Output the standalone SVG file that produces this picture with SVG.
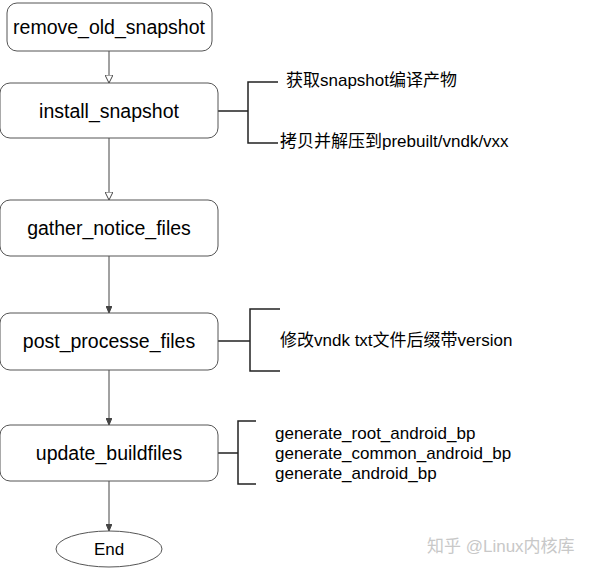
<svg xmlns="http://www.w3.org/2000/svg" width="600" height="569" viewBox="0 0 600 569">
<defs>
<style>
.b{fill:#fff;stroke:#555;stroke-width:1}
.t{font-family:"Liberation Sans","Noto Sans CJK SC",sans-serif;font-size:19.5px;fill:#000;text-anchor:middle}
.s{font-family:"Liberation Sans","Noto Sans CJK SC",sans-serif;font-size:17px;fill:#000}
.l{stroke:#444;fill:none}
.k{stroke:#222;stroke-width:1.5;fill:none}
</style>
<marker id="h" markerWidth="10" markerHeight="8" refX="8" refY="4" orient="auto" markerUnits="userSpaceOnUse"><path d="M0,0L8,4L0,8Z" fill="#fff" stroke="#444"/></marker>
<marker id="f" markerWidth="8" markerHeight="6" refX="7" refY="3" orient="auto" markerUnits="userSpaceOnUse"><path d="M0,0L7,3L0,6Z" fill="#444" stroke="#444"/></marker>
</defs>
<rect width="600" height="569" fill="#fff"/>
<g id="connectors">
<path class="l" d="M109,51V83" marker-end="url(#h)"/>
<path class="l" d="M109,138V200" marker-end="url(#h)"/>
<path class="l" d="M109,256V313" marker-end="url(#f)"/>
<path class="l" d="M109,370V425" marker-end="url(#f)"/>
<path class="l" d="M109,481V531" marker-end="url(#f)"/>
<path class="k" d="M218,111H248M278,82H248V143H278"/>
<path class="k" d="M218,341H250M280,309H250V371H280"/>
<path class="k" d="M218,453H238M256,421H238V484H256"/>
</g>
<g id="n1"><rect class="b" x="7" y="3" width="205" height="48" rx="10"/><text class="t" x="109" y="34">remove_old_snapshot</text></g>
<g id="n2"><rect class="b" x="0" y="83" width="218" height="55" rx="10"/><text class="t" x="109" y="118">install_snapshot</text></g>
<g id="n3"><rect class="b" x="0" y="200" width="218" height="56" rx="10"/><text class="t" x="109" y="235">gather_notice_files</text></g>
<g id="n4"><rect class="b" x="0" y="313" width="218" height="57" rx="10"/><text class="t" x="109" y="348">post_processe_files</text></g>
<g id="n5"><rect class="b" x="0" y="425" width="218" height="56" rx="10"/><text class="t" x="109" y="460">update_buildfiles</text></g>
<g id="n6"><ellipse class="b" cx="109" cy="549" rx="53" ry="18"/><text class="t" x="109" y="555" style="font-size:17px">End</text></g>
<g id="notes">
<text class="s" x="286" y="86">获取snapshot编译产物</text>
<text class="s" x="280" y="147">拷贝并解压到prebuilt/vndk/vxx</text>
<text class="s" x="280" y="346">修改vndk txt文件后缀带version</text>
<text class="s" x="275" y="439">generate_root_android_bp</text>
<text class="s" x="275" y="459">generate_common_android_bp</text>
<text class="s" x="275" y="479">generate_android_bp</text>
<text class="s" x="427" y="552" style="fill:#c8c8c8;font-size:17px">知乎 @Linux内核库</text>
</g>
</svg>
